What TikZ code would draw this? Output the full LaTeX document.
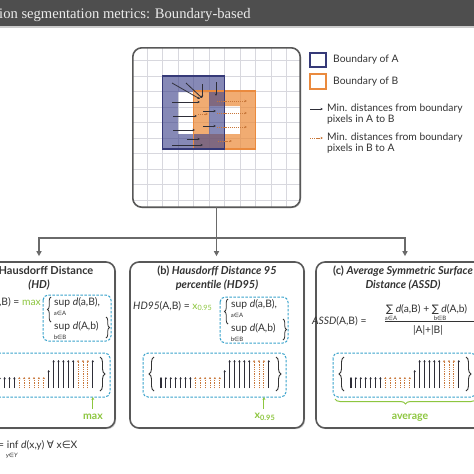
\documentclass[tikz,border=0pt]{standalone}
\usepackage{fontspec}
\setmainfont{Lato}
\newfontfamily\bannerfont{Liberation Serif}
\newfontfamily\glyphfont{DejaVu Sans}
\usepackage{xcolor}
\usepackage{tikz}
\usetikzlibrary{calc,arrows.meta,positioning,decorations.pathreplacing,shadows}

\definecolor{bannergray}{HTML}{4E4E4E}
\definecolor{framegray}{HTML}{585858}
\definecolor{flowgray}{HTML}{6A6A6A}
\definecolor{gridgray}{HTML}{D8D8DE}
\definecolor{textgray}{HTML}{333333}
\definecolor{setA}{HTML}{3C418A}
\definecolor{edgeA}{HTML}{363A78}
\definecolor{setB}{HTML}{EC8C3C}
\definecolor{edgeB}{HTML}{EA8A3E}
\definecolor{dashblue}{HTML}{3AA3CC}
\definecolor{markgreen}{HTML}{8DC63F}
\definecolor{barblack}{HTML}{2E2E38}
\definecolor{barorange}{HTML}{C8773A}

\newcommand{\elem}{{\glyphfont ∈}}

% dashed set of the two suprema, #1/#2 = top left corner
\newcommand{\supbox}[2]{%
  \draw[dashbox] (#1,#2) rectangle ++(68,46);
  \draw[setbrace] (#1+8,#2+27) -- (#1+8,#2+2);
  \node[formula,anchor=base west] at (#1+11,#2+10) {sup \textit{d}(a,B),};
  \node[subtext] at (#1+17,#2+18) {a\elem A};
  \node[formula,anchor=base west] at (#1+11,#2+34) {sup \textit{d}(A,b)};
  \node[subtext] at (#1+17,#2+42) {b\elem B};
  \draw[setbrace] (#1+63,#2+22) -- (#1+63,#2+43);
}

% row of distance bars, #1 = box left, first bar at #1+18
\newcommand{\distbars}[1]{%
  \draw[dashbox] (#1,353) rectangle ++(143,44);
  \draw[bigbrace] (#1+11,391) -- (#1+11,357);
  \draw[bigbrace] (#1+133,357) -- (#1+133,391);
  \foreach \k/\h in {0/11,1/11,2/11,3/11,4/11,5/11,6/11,13/18,14/28,15/28,16/28,17/28,18/28,22/28}
    \draw[barA] (#1+18+\k*4.9,388) -- ++(0,-\h);
  \foreach \k/\h in {7/11,8/11,9/11,10/11,11/11,12/11,19/28,20/28,21/28}
    \draw[barB] (#1+18+\k*4.9,388) -- ++(0,-\h);
}

\begin{document}
\begin{tikzpicture}[x=1pt,y=-1pt,
    panelfill/.style={fill=white,rounded corners=9pt,drop shadow={shadow xshift=1.2pt,shadow yshift=-1.2pt,opacity=0.35},inner sep=0pt},
    frameline/.style={draw=framegray,line width=1.6pt,rounded corners=9pt},
    metricbox/.style={frameline,fill=white,drop shadow={shadow xshift=1.2pt,shadow yshift=-1.2pt,opacity=0.35},minimum height=166pt,inner sep=0pt},
    gridline/.style={gridgray,line width=0.5pt},
    ringA/.style={fill=setA,fill opacity=0.62,even odd rule},
    ringB/.style={fill=setB,fill opacity=0.72,even odd rule},
    edgeAline/.style={draw=edgeA,line width=1.8pt},
    edgeBline/.style={draw=edgeB,line width=1.8pt},
    distA/.style={line width=0.8pt,barblack,-{Stealth[length=2.6pt,width=2.4pt]}},
    distB/.style={line width=0.7pt,barorange,dash pattern=on 1.2pt off 0.9pt,-{Stealth[length=2.6pt,width=2.4pt]}},
    legendtext/.style={font=\fontsize{10.3}{10.5}\selectfont,text=textgray,align=left,anchor=west,inner sep=0pt},
    flowline/.style={draw=flowgray,line width=1.3pt},
    flowarrow/.style={flowline,-{Triangle[length=5pt,width=5pt]},shorten >=5pt},
    boxtitle/.style={font=\fontsize{11}{14}\selectfont\bfseries,text=textgray,align=center},
    formula/.style={font=\fontsize{10.3}{11}\selectfont,text=textgray,inner sep=0pt},
    subtext/.style={font=\fontsize{6}{6}\selectfont,text=textgray,inner sep=0pt},
    dashbox/.style={draw=dashblue,line width=1pt,dash pattern=on 2.5pt off 1.5pt,rounded corners=5pt},
    setbrace/.style={draw=textgray,line width=0.8pt,decorate,decoration={brace,amplitude=3.5pt}},
    bigbrace/.style={draw=textgray,line width=0.9pt,decorate,decoration={brace,amplitude=5pt}},
    barA/.style={line width=1.1pt,barblack,-{Stealth[length=2.2pt,width=2.4pt]}},
    barB/.style={line width=1pt,barorange,dash pattern=on 1pt off 0.8pt,-{Stealth[length=2.2pt,width=2.4pt]}},
    markarrow/.style={markgreen,line width=1pt,-{Stealth[length=3pt,width=3pt]}},
    marktext/.style={font=\fontsize{10.5}{12}\selectfont\bfseries,text=markgreen},
    greenbrace/.style={draw=markgreen,line width=1pt,decorate,decoration={brace,amplitude=5pt}}]

  \useasboundingbox (0,0) rectangle (474,474);
  \clip (0,0) rectangle (474,474);

  % banner
  \fill[bannergray] (0,0) rectangle (474,26);
  \fill[gray!40] (0,26) rectangle (474,27.5);
  \node[anchor=base west,inner sep=0pt,text=white!92!black,font=\bannerfont\fontsize{14.6}{16}\selectfont] (banner) at (-1,18) {ion segmentation metrics: Boundary-based};

  % pixel grid with the two boundaries
  \node[panelfill,minimum width=167pt,minimum height=159pt] (panel) at (216.5,127.5) {};
  \begin{scope}
    \clip[rounded corners=9pt] (panel.south west) rectangle (panel.north east);
    \foreach \gx in {0,...,9}
      \draw[gridline] (147+\gx*15.5,48) -- (147+\gx*15.5,207);
    \foreach \gy in {0,...,9}
      \draw[gridline] (133,60.5+\gy*15.5) -- (300,60.5+\gy*15.5);
  \end{scope}
  \fill[ringB] (193.5,91) rectangle (255.5,149) (209,106) rectangle (240,134);
  \fill[ringA] (162.5,76) rectangle (224.5,149) (178,92) rectangle (209,134);
  \draw[edgeBline] (193.5,91) rectangle (255.5,149);
  \draw[edgeAline] (162.5,76) rectangle (224.5,149);
  \draw[frameline] (panel.south west) rectangle (panel.north east);

  % minimal distances A -> B
  \draw[distA] (172,83) -- (200,99);
  \draw[distA] (186,83) -- (202,98);
  \draw[distA] (202,84) -- (202,98);
  \draw[distA] (216,82) -- (216,96);
  \draw[distA] (172,102) -- (200,102);
  \draw[distA] (173,116) -- (197,116);
  \draw[distA] (173,130) -- (195,130);
  \draw[distA] (187,139) -- (200,139);
  \draw[distA] (172,145) -- (203,145);
  \draw[distA] (203,111) -- (216,111);
  \draw[distA] (203,126) -- (216,126);
  % minimal distances B -> A
  \draw[distB] (217,101) -- (247,101);
  \draw[distB] (217,113) -- (247,113);
  \draw[distB] (217,127) -- (247,127);
  \draw[distB] (218,141) -- (232,141);
  \draw[distB] (198,114) -- (208,114);

  % legend
  \draw[edgeAline,fill=white] (310,53) rectangle (326,67);
  \node[legendtext] (legA) at (333,60) {Boundary of A};
  \draw[edgeBline,fill=white] (310,74) rectangle (326,89);
  \node[legendtext] (legB) at (333,81.5) {Boundary of B};
  \coordinate (keyA) at (310,109);
  \draw[distA] (keyA) -- ++(13,0);
  \node[legendtext] (legAB) at (327,114) {Min. distances from boundary\\pixels in A to B};
  \coordinate (keyB) at (310,138);
  \draw[distB] (keyB) -- ++(13,0);
  \node[legendtext] (legBA) at (327,143) {Min. distances from boundary\\pixels in B to A};

  % the three metrics
  \node[metricbox,minimum width=152pt] (boxa) at (39,345) {};
  \node[metricbox,minimum width=174pt] (boxb) at (217,345) {};
  \node[metricbox,minimum width=178pt] (boxc) at (405,345) {};

  \draw[flowline] (panel.south) -- (panel.south |- 0,238) coordinate (hub);
  \draw[flowarrow] (hub) -| (boxa.north);
  \draw[flowarrow] (hub) -| (boxc.north);
  \draw[flowarrow] (hub) -- (hub |- boxb.north);

  \node[boxtitle] (titlea) at (39,278) {(a) Hausdorff Distance\\\textit{(HD)}};
  \node[boxtitle] (titleb) at (217,278) {(b) \textit{Hausdorff Distance 95}\\\textit{percentile (HD95)}};
  \node[boxtitle] (titlec) at (403,278) {(c) \textit{Average Symmetric Surface}\\\textit{Distance (ASSD)}};

  % (a)
  \node[formula,anchor=base east] (forma) at (41,305) {\textit{HD}(A,B) = \textcolor{markgreen}{max}};
  \supbox{43}{295}
  \distbars{-33}
  \draw[markarrow] (92.8,409) -- (92.8,397);
  \node[marktext] (maxa) at (93,417) {max};

  % (b)
  \node[formula,anchor=base west] (formb) at (133,309) {\textit{HD95}(A,B) = \textcolor{markgreen}{x\textsubscript{0.95}}};
  \supbox{220}{297}
  \distbars{143}
  \draw[markarrow] (263.9,409) -- (263.9,397);
  \node[marktext] (perc) at (265,417) {x\textsubscript{0.95}};

  % (c)
  \node[formula,anchor=west] (formc) at (312,321) {\textit{ASSD}(A,B) =};
  \node[formula,anchor=base west] (numc) at (386,312) {{\glyphfont ∑} \textit{d}(a,B) + {\glyphfont ∑} \textit{d}(A,b)};
  \node[subtext] at (391,318) {a\elem A};
  \node[subtext] at (440,318) {b\elem B};
  \draw[textgray,line width=0.6pt] (385,321.5) -- (490,321.5);
  \node[formula] (denc) at (428,330.5) {|A|+|B|};
  \distbars{333}
  \draw[greenbrace] (476,399) -- (335,399);
  \node[marktext] (avg) at (410,418) {average};

  % bottom definition
  \node[formula,anchor=base west] (infdef) at (-2,448) {= inf \textit{d}(x,y) {\glyphfont ∀} x\elem X};
  \node[subtext] at (12,456) {\textit{y}\elem \textit{Y}};
\end{tikzpicture}
\end{document}
